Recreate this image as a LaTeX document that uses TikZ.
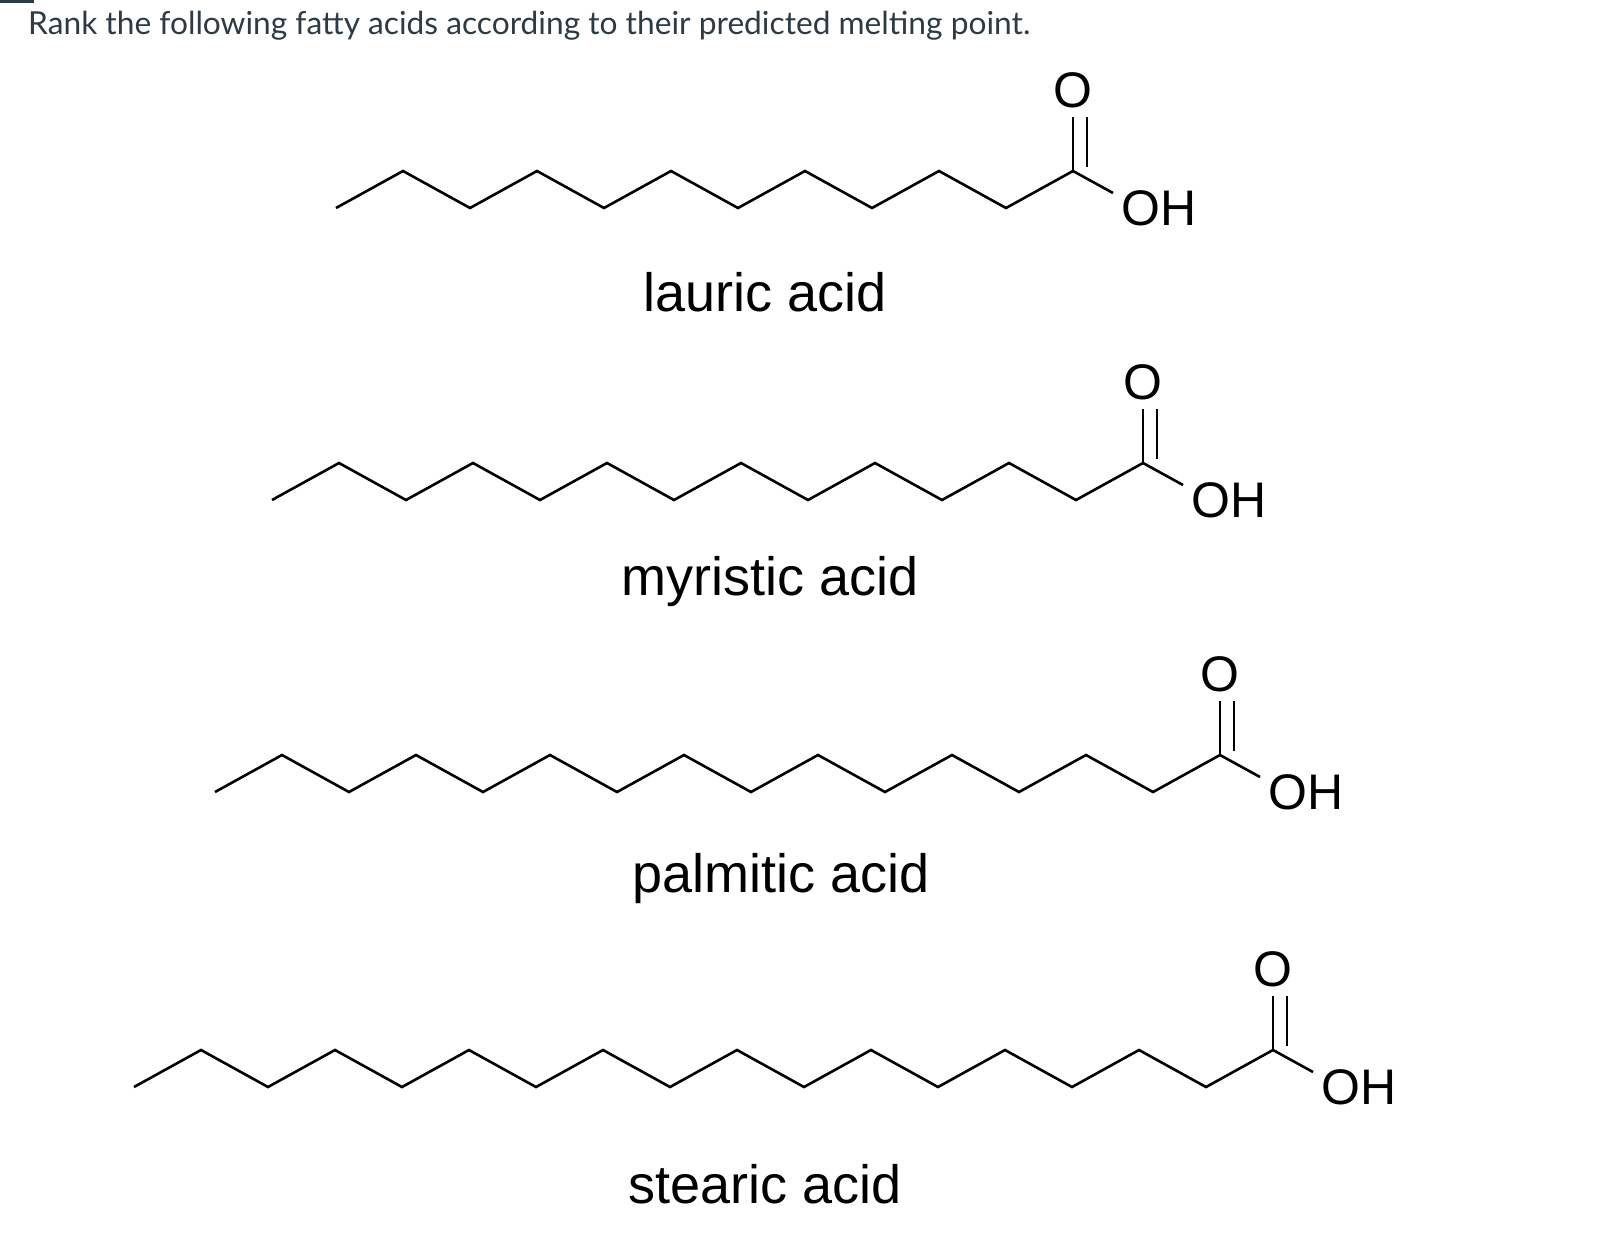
\documentclass[tikz,border=0pt]{standalone}
\usepackage{fontspec}
\setmainfont{Liberation Sans}
\newfontfamily\latofont{Lato}
\definecolor{ttl}{HTML}{2D3B45}
\begin{document}
\begin{tikzpicture}[x=1pt,y=-1pt,
  bond/.style={line width=2.6pt,line join=miter},
  atom/.style={font=\fontsize{50}{50}\selectfont,inner sep=0pt},
  lab/.style={font=\fontsize{54}{54}\selectfont,inner sep=0pt}]
\useasboundingbox (0,0) rectangle (1622,1254);
\fill[ttl] (0,0) rectangle (34,2.5);
\node[anchor=west,inner sep=0pt,text=ttl,font=\latofont\fontsize{31.7}{31.7}\selectfont] (title) at (28,26) {Rank the following fatty acids according to their predicted melting point.};
% #1 name, #2 start x, #3 n carbons, #4 low y, #5 label text, #6 label x, #7 label y
\newcommand{\acid}[7]{%
  \pgfmathsetmacro{\cx}{#2+(#3-1)*67}
  \pgfmathsetmacro{\hy}{#4-37}
  \draw[bond] (#2,#4) \foreach \i in {1,...,\numexpr#3-1\relax}{%
     -- ({#2+\i*67},{#4-37*mod(\i,2)})};
  \node[atom] (#1O) at (\cx,{\hy-81}) {O};
  \node[atom] (#1OH) at ({\cx+86},{#4}) {OH};
  \coordinate (#1C) at (\cx,\hy);
  \draw[bond] (#1C) -- ({\cx+40},{\hy+22});
  \draw[bond] (#1C) -- (\cx,{\hy-54});
  \draw[bond] ({\cx+14},{\hy-4}) -- ({\cx+14},{\hy-54});
  \node[lab] (#1L) at (#6,#7) {#5};
}
\acid{la}{336}{12}{208}{lauric acid}{765}{292}
\acid{my}{272}{14}{500}{myristic acid}{770}{582}
\acid{pa}{215}{16}{792}{palmitic acid}{781}{879}
\acid{st}{134}{18}{1087}{stearic acid}{765}{1184}
\end{tikzpicture}
\end{document}
